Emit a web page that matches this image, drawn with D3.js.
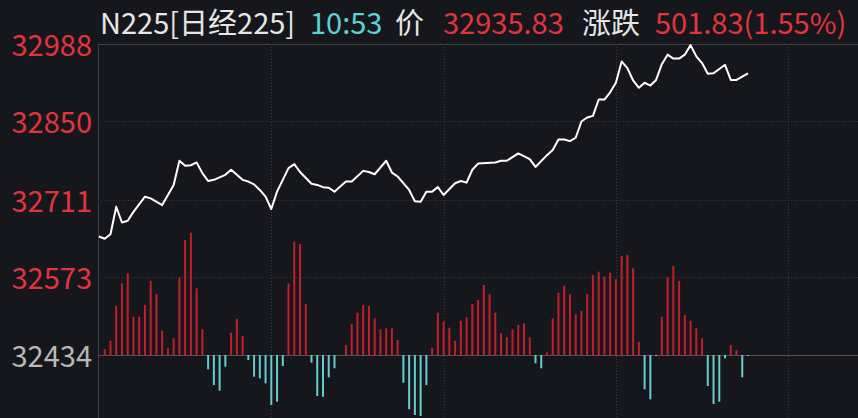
<!DOCTYPE html>
<html><head><meta charset="utf-8">
<script src="https://cdn.jsdelivr.net/npm/d3@7"></script>
<style>html,body{margin:0;padding:0;background:#15171c;overflow:hidden}</style>
</head><body>
<svg id="c" width="858" height="418"></svg>
<script>
// ---- data ----
const prevClose = 32434;
const priceTicks = [32988, 32850, 32711, 32573, 32434];
const timeGridMinutes = [30, 60, 90, 120];
const lineMinutes = [0,1,2,3,4,5,6,8,9,11,13,14,15,16,17,18,19,20,22,23,25,26,27,28,29,30,31,33,34,35,37,38,39,40,41,42,43,44,46,47,48,50,51,52,54,55,56,57,58,59,60,62,63,64,65,66,69,70,71,73,75,76,78,79,80,81,82,83,84,85,86,87,88,89,90,91,92,93,94,95,96,97,98,99,100,101,102,103,104,105,106,107,109,110,111,112,113];
const linePrices = [32645,32641,32649,32698,32670,32673,32689,32716,32713,32701,32737,32780,32771,32772,32777,32758,32744,32746,32755,32764,32746,32743,32738,32728,32716,32694,32725,32767,32774,32760,32739,32737,32733,32732,32725,32734,32743,32743,32762,32760,32756,32780,32759,32752,32728,32708,32707,32725,32725,32733,32719,32740,32744,32741,32764,32775,32777,32780,32780,32793,32783,32769,32790,32799,32818,32818,32815,32821,32850,32857,32860,32889,32889,32902,32919,32957,32945,32923,32910,32919,32914,32924,32952,32969,32962,32962,32969,32986,32966,32954,32935,32936,32951,32924,32924,32930,32935.83];
const barValues = [0,5.7,14.3,49,71.7,81.7,38.3,38.3,50,74.3,61,24.3,6.7,16.7,77.7,115,122.3,66.7,25.7,-14.3,-30,-35.7,-11.7,22.3,36,19,-5,-21.7,-23.3,-28.3,-50,-46.7,-11,71.7,113.3,111,51,-7.7,-41,-41.7,-22.3,-13.3,0,10,31,42.3,50,49,36.7,25.7,26.7,26.7,15,-27.7,-54.3,-60,-61,-30,7.3,42.3,33.3,27.3,14.3,34.3,37.7,51,55,70,61,42.3,21.7,17.7,25.7,30,31.7,17.7,-8.3,-13.3,2.7,36.7,62.3,69.3,61,40.7,44.3,61,80,83.3,78.3,82.3,75.7,99,100,86.7,13.3,-34.3,-44.3,-1,38.3,77.7,89,74,40,34.3,26.7,16.7,-31,-49,-46.7,-3.3,10,5,-22.3,-1];
const header = [
  {text:"N225[日经225]", color:"#e6e6e6", x:100},
  {text:"10:53", color:"#5cd3d3", x:310},
  {text:"价", color:"#e6e6e6", x:395},
  {text:"32935.83", color:"#e3343d", x:443},
  {text:"涨跌", color:"#e6e6e6", x:582},
  {text:"501.83(1.55%)", color:"#e3343d", x:655}
];

// ---- layout ----
const W = 858, H = 418;
const plotLeft = 98, plotTop = 44;
const svg = d3.select("#c");
const x = d3.scaleLinear().domain([0, 150]).range([99, 960.5]);
const y = d3.scaleLinear().domain([prevClose, 32988]).range([355, 44]);
const yb = d3.scaleLinear().domain([-62, 125]).range([417, 230]);
const font = "'Noto Sans CJK SC','Noto Sans',sans-serif";

// header
svg.selectAll("text.h").data(header).join("text")
  .attr("class","h").attr("x", d=>d.x).attr("y", 34)
  .attr("fill", d=>d.color).attr("font-family", font).attr("font-size", 29)
  .text(d=>d.text);

// grid
const g = svg.append("g");
g.append("line").attr("x1", plotLeft).attr("x2", W).attr("y1", plotTop+0.5).attr("y2", plotTop+0.5)
  .attr("stroke", "#3d4047").attr("stroke-width", 1);
g.append("line").attr("x1", plotLeft+0.5).attr("x2", plotLeft+0.5).attr("y1", plotTop).attr("y2", H)
  .attr("stroke", "#3d4047").attr("stroke-width", 1);
g.selectAll("line.hg").data(priceTicks.filter(t=>t!==32988 && t!==prevClose)).join("line")
  .attr("class","hg").attr("x1", plotLeft).attr("x2", W)
  .attr("y1", d=>Math.round(y(d))+0.5).attr("y2", d=>Math.round(y(d))+0.5)
  .attr("stroke", "#363941").attr("stroke-dasharray", "1,2");
g.selectAll("line.vg").data(timeGridMinutes).join("line")
  .attr("class","vg").attr("y1", plotTop).attr("y2", H)
  .attr("x1", d=>Math.round(x(d))+0.5).attr("x2", d=>Math.round(x(d))+0.5)
  .attr("stroke", "#363941").attr("stroke-dasharray", "1,2");
g.append("line").attr("x1", plotLeft).attr("x2", W)
  .attr("y1", Math.round(y(prevClose))+0.5).attr("y2", Math.round(y(prevClose))+0.5)
  .attr("stroke", "#5a4c50").attr("stroke-width", 1);

// y labels
svg.selectAll("text.yl").data(priceTicks).join("text")
  .attr("class","yl").attr("x", 92).attr("y", d=>y(d)+12)
  .attr("text-anchor","end")
  .attr("fill", d=>d===prevClose ? "#b8b8b8" : "#e3343d")
  .attr("font-family", font).attr("font-size", 29)
  .text(d=>d);

// bars
svg.append("g").selectAll("rect").data(barValues).join("rect")
  .attr("x", (d,i)=>x(i)-1)
  .attr("width", 2)
  .attr("y", d=>Math.min(yb(d), yb(0)))
  .attr("height", d=>Math.abs(yb(d)-yb(0)))
  .attr("fill", d=>d>=0 ? "#c21f29" : "#66cccc");

// price line
const pts = lineMinutes.map((m,i)=>[m, linePrices[i]]);
svg.append("path").datum(pts)
  .attr("d", d3.line().x(d=>x(d[0])).y(d=>y(d[1])))
  .attr("fill","none").attr("stroke","#ffffff").attr("stroke-width",2)
  .attr("stroke-linejoin","round");
</script>
</body></html>
